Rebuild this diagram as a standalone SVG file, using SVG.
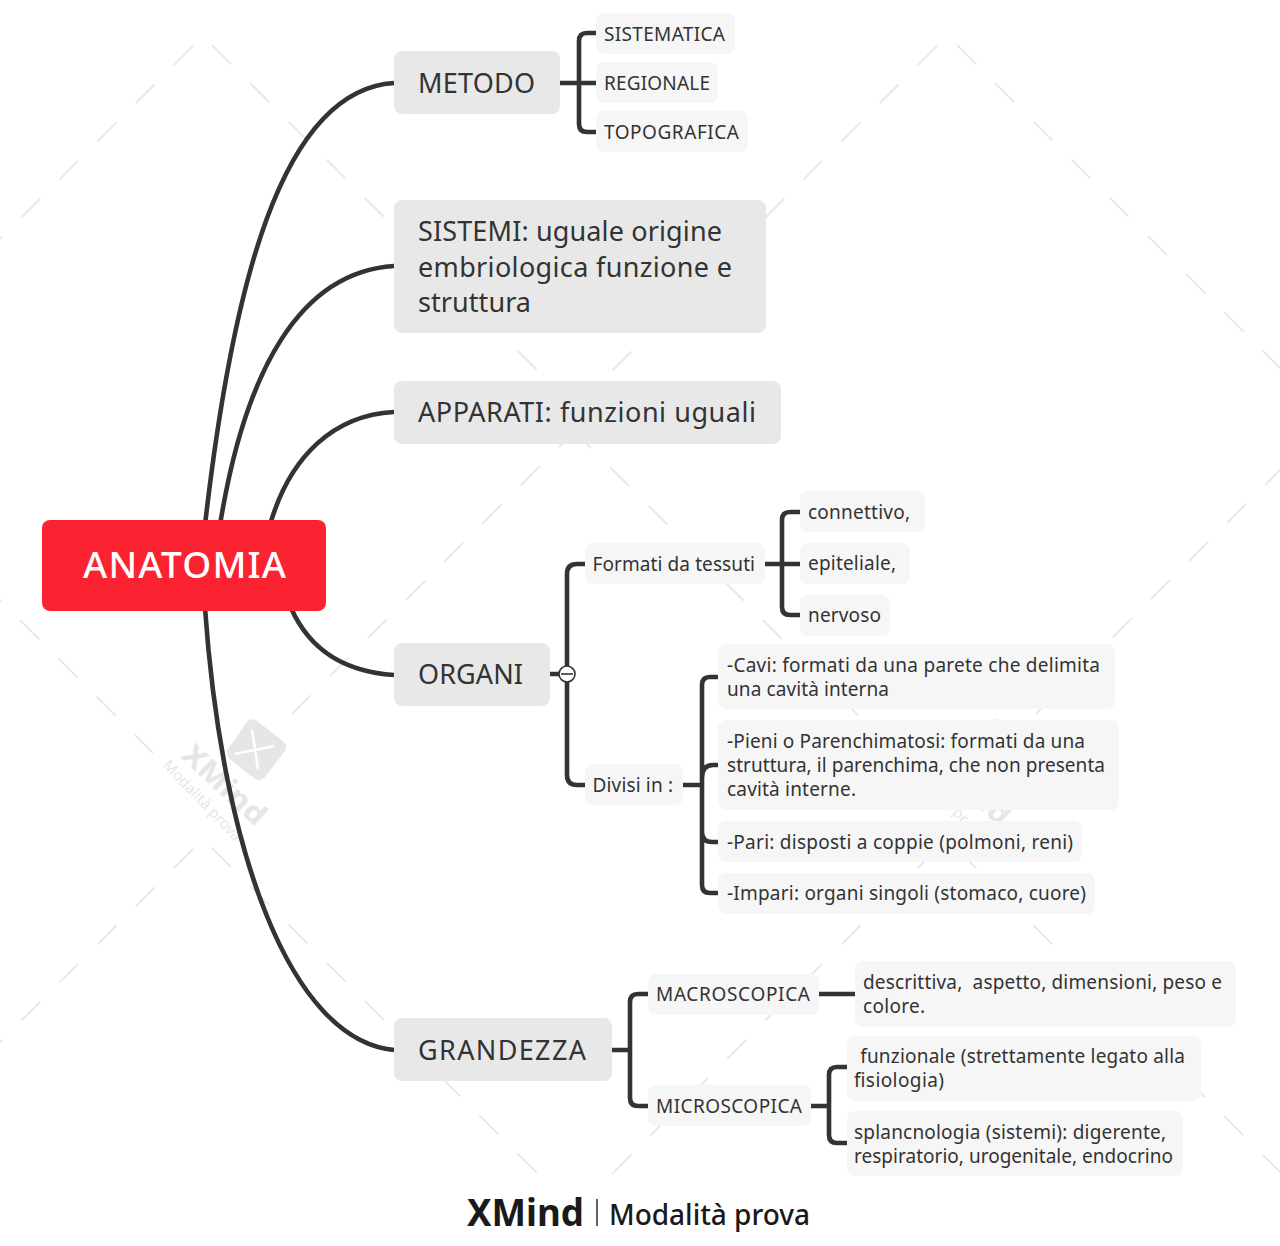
<svg xmlns="http://www.w3.org/2000/svg" width="1280" height="1246" viewBox="0 0 1280 1246">
<style>
text{font-family:"Noto Sans","Open Sans",sans-serif;white-space:pre;fill:#333}
.big{font-size:27px}
.small{font-size:19px}
.main{fill:#e8e8e8}
.sub{fill:#f6f6f6}
.conn{fill:none;stroke:#333;stroke-width:4.6}
.dash{fill:none;stroke:#e9e9e9;stroke-width:2;stroke-dasharray:27 27}
.wm{fill:#e6e6e6}
</style>
<defs>
<g id="mark">
<path class="wm" d="M247 722 Q252 717 257 721 L283 741 Q288 745 285 751 L265 777 Q261 782 255 779 L230 759 Q225 755 228 749 Z"/>
<path d="M252 730 Q255 748 258 770 M235 754 Q255 750 274 746" fill="none" stroke="#fff" stroke-width="2.5"/>
<text transform="translate(180,757) rotate(43)" textLength="103" lengthAdjust="spacingAndGlyphs" style="font-size:29px;font-weight:700;fill:#e6e6e6">XMind</text>
<text transform="translate(162,766) rotate(46)" style="font-size:15px;fill:#e6e6e6">Modalità prova</text>
</g>
</defs>
<rect width="1280" height="1246" fill="#fff"/>
<g id="watermark">
<path class="dash" d="M193 46L-5 244"/>
<path class="dash" d="M212 45L575 408"/>
<path class="dash" d="M937 46L575 408"/>
<path class="dash" d="M957 45L1290 378"/>
<path class="dash" d="M578 428L292 714"/>
<path class="dash" d="M572 429L897 754"/>
<path class="dash" d="M-18 582L153 753"/>
<path class="dash" d="M1284.4 465.6L1036 714"/>
<path class="dash" d="M193 849L-5 1047"/>
<path class="dash" d="M212 848L537 1173"/>
<path class="dash" d="M937 849L612 1174"/>
<path class="dash" d="M957 849L1281 1173"/>
<use href="#mark"/>
<use href="#mark" x="744"/>
</g>
<g id="connectors">
<path class="conn" d="M394 83C280 90 232 290 205 525"/>
<path class="conn" d="M394 266C300 272 245 370 220 525"/>
<path class="conn" d="M394 412C335 415 290 455 270 525"/>
<path class="conn" d="M394 675C350 672 312 655 291 608"/>
<path class="conn" d="M394 1050C290 1040 222 850 205 608"/>
<path class="conn" d="M560 83H596M596 33H587Q579 33 579 41V124Q579 132 587 132H596"/>
<path class="conn" d="M550 674H567M585 564H577Q567 564 567 574V775Q567 785 577 785H585"/>
<path class="conn" d="M765 564H800M800 512H790Q782 512 782 520V607Q782 615 790 615H800"/>
<path class="conn" d="M683 785H702M718 677H710Q702 677 702 685V885Q702 893 710 893H718M718 765H713Q702 765 702 778M718 842H712Q702 842 702 832"/>
<path class="conn" d="M612 1050H630M648 994H638Q630 994 630 1002V1098Q630 1106 638 1106H648"/>
<path class="conn" d="M819 994H855"/>
<path class="conn" d="M811 1106H829M847 1067H837Q829 1067 829 1075V1135Q829 1143 837 1143H847"/>
<circle cx="567" cy="674" r="8" fill="#fff" stroke="#333" stroke-width="1.6"/>
<path d="M561 674H573" stroke="#333" stroke-width="1.6"/>
</g>
<g id="node-anatomia"><rect x="42" y="520" width="284" height="91" rx="8" fill="#fb2331"/><text x="83" y="578" textLength="203" style="font-size:37px;font-weight:500;fill:#fff">ANATOMIA</text></g>
<g id="node-metodo"><rect class="main" x="394" y="51" width="166" height="63" rx="8"/><text class="big" x="418" y="93" textLength="117">METODO</text></g>
<g id="node-sistemi"><rect class="main" x="394" y="200" width="372" height="133" rx="8"/><text class="big"><tspan x="418" y="241" textLength="304">SISTEMI: uguale origine</tspan><tspan x="418" y="277" textLength="314">embriologica funzione e</tspan><tspan x="418" y="312" textLength="113">struttura</tspan></text></g>
<g id="node-apparati"><rect class="main" x="394" y="381" width="387" height="63" rx="8"/><text class="big" x="418" y="422" textLength="338">APPARATI: funzioni uguali</text></g>
<g id="node-organi"><rect class="main" x="394" y="643" width="156" height="63" rx="8"/><text class="big" x="418" y="684" textLength="105">ORGANI</text></g>
<g id="node-grandezza"><rect class="main" x="394" y="1018" width="218" height="63" rx="8"/><text class="big" x="418" y="1060" textLength="168">GRANDEZZA</text></g>
<g id="node-sistematica"><rect class="sub" x="596" y="13" width="139" height="41" rx="8"/><text class="small" x="604" y="41" textLength="121">SISTEMATICA</text></g>
<g id="node-regionale"><rect class="sub" x="596" y="62" width="122" height="41" rx="8"/><text class="small" x="604" y="90" textLength="106">REGIONALE</text></g>
<g id="node-topografica"><rect class="sub" x="596" y="111" width="152" height="41" rx="8"/><text class="small" x="604" y="139" textLength="135">TOPOGRAFICA</text></g>
<g id="node-formati"><rect class="sub" x="585" y="543" width="180" height="41" rx="8"/><text class="small" x="592.5" y="571" textLength="162.5">Formati da tessuti</text></g>
<g id="node-connettivo"><rect class="sub" x="800" y="491" width="125" height="41" rx="8"/><text class="small" x="808" y="519" textLength="102">connettivo,</text></g>
<g id="node-epiteliale"><rect class="sub" x="800" y="543" width="110" height="41" rx="8"/><text class="small" x="808" y="570" textLength="88">epiteliale,</text></g>
<g id="node-nervoso"><rect class="sub" x="800" y="595" width="90" height="41" rx="8"/><text class="small" x="808" y="622" textLength="73">nervoso</text></g>
<g id="node-divisi"><rect class="sub" x="585" y="764" width="98" height="41" rx="8"/><text class="small" x="592.5" y="792" textLength="80.5">Divisi in :</text></g>
<g id="node-cavi"><rect class="sub" x="718" y="644" width="397" height="65" rx="8"/><text class="small"><tspan x="727" y="672" textLength="373">-Cavi: formati da una parete che delimita</tspan><tspan x="727" y="696" textLength="162">una cavità interna</tspan></text></g>
<g id="node-pieni"><rect class="sub" x="718" y="720" width="401" height="90" rx="8"/><text class="small"><tspan x="727" y="748" textLength="358">-Pieni o Parenchimatosi: formati da una</tspan><tspan x="727" y="772" textLength="378">struttura, il parenchima, che non presenta</tspan><tspan x="727" y="796" textLength="129">cavità interne.</tspan></text></g>
<g id="node-pari"><rect class="sub" x="718" y="821" width="364" height="41" rx="8"/><text class="small" x="727" y="849" textLength="346">-Pari: disposti a coppie (polmoni, reni)</text></g>
<g id="node-impari"><rect class="sub" x="718" y="873" width="377" height="41" rx="8"/><text class="small" x="727" y="900" textLength="359">-Impari: organi singoli (stomaco, cuore)</text></g>
<g id="node-macroscopica"><rect class="sub" x="648" y="974" width="171" height="41" rx="8"/><text class="small" x="656" y="1001" textLength="154">MACROSCOPICA</text></g>
<g id="node-microscopica"><rect class="sub" x="648" y="1085" width="163" height="41" rx="8"/><text class="small" x="656" y="1113" textLength="146">MICROSCOPICA</text></g>
<g id="node-descrittiva"><rect class="sub" x="855" y="961" width="381" height="66" rx="8"/><text class="small"><tspan x="863" y="989" textLength="359">descrittiva,  aspetto, dimensioni, peso e</tspan><tspan x="863" y="1013" textLength="62">colore.</tspan></text></g>
<g id="node-funzionale"><rect class="sub" x="847" y="1036" width="354" height="65" rx="8"/><text class="small"><tspan x="855" y="1063" textLength="330"> funzionale (strettamente legato alla</tspan><tspan x="854" y="1087" textLength="90">fisiologia)</tspan></text></g>
<g id="node-splancnologia"><rect class="sub" x="847" y="1111" width="336" height="65" rx="8"/><text class="small"><tspan x="854" y="1139" textLength="312">splancnologia (sistemi): digerente,</tspan><tspan x="854" y="1163" textLength="319">respiratorio, urogenitale, endocrino</tspan></text></g>
<g id="footer">
<text x="467" y="1226" textLength="117" lengthAdjust="spacingAndGlyphs" style="font-size:38px;font-weight:700;fill:#1a1a1a">XMind</text>
<path d="M597 1199V1226" stroke="#222" stroke-width="1.4"/>
<text x="609" y="1225" textLength="201" style="font-size:28px;font-weight:500;fill:#1a1a1a">Modalità prova</text>
</g>
</svg>
